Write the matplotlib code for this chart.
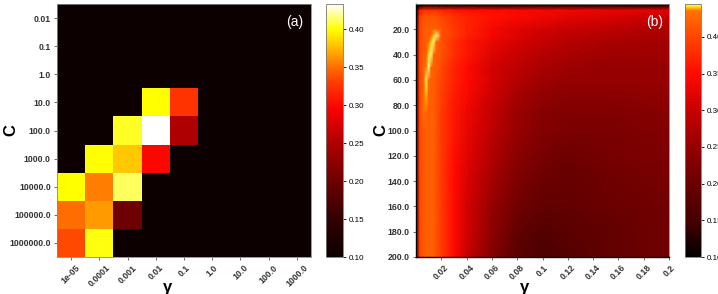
import numpy as np
import matplotlib
matplotlib.use("Agg")
import matplotlib.pyplot as plt
from matplotlib.colors import LinearSegmentedColormap

plt.rcParams['font.family'] = ['Liberation Sans', 'DejaVu Sans']

# ---------------- Panel (a) data ----------------
gamma_a_labels = ['1e-05', '0.0001', '0.001', '0.01', '0.1', '1.0', '10.0', '100.0', '1000.0']
C_a_labels = ['0.01', '0.1', '1.0', '10.0', '100.0', '1000.0', '10000.0', '100000.0', '1000000.0']
B = 0.10
score_a = [
    [B, B, B, B, B, B, B, B, B],
    [B, B, B, B, B, B, B, B, B],
    [B, B, B, B, B, B, B, B, B],
    [B, B, B, 0.400, 0.325, B, B, B, B],
    [B, B, 0.405, 0.433, 0.250, B, B, B, B],
    [B, 0.400, 0.380, 0.300, B, B, B, B, B],
    [0.400, 0.355, 0.412, B, B, B, B, B, B],
    [0.350, 0.365, 0.200, B, B, B, B, B, B],
    [0.335, 0.402, B, B, B, B, B, B, B],
]
cbar_a_ticks = [0.10, 0.15, 0.20, 0.25, 0.30, 0.35, 0.40]

# ---------------- Panel (b) data ----------------
gamma_b = [0.0, 0.001, 0.003, 0.006, 0.008, 0.010, 0.012, 0.014, 0.016, 0.020,
           0.030, 0.040, 0.060, 0.080, 0.100, 0.120, 0.150, 0.200]
C_b = [0, 2, 5, 10, 20, 25, 30, 40, 50, 60, 70, 85, 100, 130, 160, 180, 200]
score_b = [
    [0.10, 0.10, 0.10, 0.10, 0.10, 0.10, 0.10, 0.10, 0.10, 0.10, 0.10, 0.10, 0.10, 0.10, 0.10, 0.10, 0.10, 0.10],
    [0.10, 0.10, 0.14, 0.17, 0.18, 0.18, 0.18, 0.18, 0.18, 0.18, 0.18, 0.18, 0.17, 0.17, 0.17, 0.17, 0.16, 0.16],
    [0.10, 0.16, 0.36, 0.38, 0.38, 0.38, 0.38, 0.38, 0.38, 0.37, 0.36, 0.355, 0.35, 0.345, 0.34, 0.335, 0.33, 0.32],
    [0.10, 0.22, 0.39, 0.405, 0.41, 0.41, 0.41, 0.41, 0.41, 0.40, 0.38, 0.37, 0.355, 0.345, 0.335, 0.325, 0.315, 0.30],
    [0.10, 0.26, 0.40, 0.415, 0.42, 0.42, 0.42, 0.42, 0.42, 0.41, 0.39, 0.37, 0.34, 0.32, 0.31, 0.30, 0.29, 0.27],
    [0.10, 0.26, 0.40, 0.415, 0.42, 0.42, 0.42, 0.44, 0.445, 0.41, 0.39, 0.37, 0.34, 0.32, 0.30, 0.29, 0.28, 0.27],
    [0.10, 0.26, 0.40, 0.415, 0.42, 0.42, 0.44, 0.445, 0.43, 0.41, 0.38, 0.36, 0.33, 0.31, 0.30, 0.28, 0.27, 0.26],
    [0.10, 0.26, 0.40, 0.415, 0.42, 0.44, 0.445, 0.43, 0.42, 0.41, 0.38, 0.36, 0.32, 0.30, 0.28, 0.27, 0.26, 0.26],
    [0.10, 0.26, 0.40, 0.42, 0.435, 0.445, 0.43, 0.42, 0.42, 0.40, 0.37, 0.35, 0.31, 0.29, 0.27, 0.26, 0.25, 0.25],
    [0.10, 0.26, 0.40, 0.42, 0.443, 0.43, 0.42, 0.42, 0.41, 0.40, 0.37, 0.35, 0.31, 0.28, 0.26, 0.25, 0.25, 0.25],
    [0.10, 0.26, 0.40, 0.425, 0.44, 0.425, 0.42, 0.42, 0.41, 0.395, 0.365, 0.345, 0.305, 0.27, 0.25, 0.24, 0.24, 0.245],
    [0.10, 0.26, 0.40, 0.435, 0.425, 0.42, 0.42, 0.42, 0.41, 0.39, 0.36, 0.335, 0.295, 0.255, 0.235, 0.225, 0.225, 0.235],
    [0.10, 0.26, 0.40, 0.415, 0.42, 0.42, 0.42, 0.42, 0.41, 0.39, 0.36, 0.33, 0.29, 0.25, 0.23, 0.22, 0.22, 0.23],
    [0.10, 0.26, 0.40, 0.415, 0.42, 0.42, 0.42, 0.42, 0.41, 0.39, 0.35, 0.32, 0.27, 0.23, 0.21, 0.20, 0.21, 0.22],
    [0.10, 0.26, 0.40, 0.415, 0.42, 0.42, 0.42, 0.42, 0.41, 0.39, 0.35, 0.31, 0.25, 0.21, 0.19, 0.19, 0.20, 0.21],
    [0.10, 0.26, 0.40, 0.415, 0.42, 0.42, 0.42, 0.42, 0.41, 0.39, 0.35, 0.31, 0.24, 0.19, 0.17, 0.18, 0.19, 0.21],
    [0.10, 0.26, 0.40, 0.415, 0.42, 0.42, 0.42, 0.42, 0.41, 0.39, 0.35, 0.30, 0.23, 0.18, 0.16, 0.17, 0.19, 0.21],
]
gamma_b_ticks = [0.02, 0.04, 0.06, 0.08, 0.1, 0.12, 0.14, 0.16, 0.18, 0.2]
gamma_b_labels = ['0.02', '0.04', '0.06', '0.08', '0.1', '0.12', '0.14', '0.16', '0.18', '0.2']
C_b_ticks = [20, 40, 60, 80, 100, 120, 140, 160, 180, 200]
cbar_b_ticks = [0.10, 0.15, 0.20, 0.25, 0.30, 0.35, 0.40]


def make_cmap(anchors, vmin, vmax, name):
    pts = [((v - vmin) / (vmax - vmin), tuple(c / 255 for c in col)) for v, col in anchors]
    return LinearSegmentedColormap.from_list(name, pts, N=1024)


vmin_a, vmax_a = 0.10, 0.433
cmap_a = make_cmap([
    (0.10, (12, 0, 0)), (0.15, (50, 0, 0)), (0.20, (110, 0, 0)), (0.25, (175, 0, 0)),
    (0.295, (250, 0, 0)), (0.33, (255, 60, 0)), (0.35, (255, 110, 0)),
    (0.38, (255, 200, 0)), (0.40, (255, 255, 0)), (0.433, (255, 255, 255))],
    vmin_a, vmax_a, 'ha')

vmin_b, vmax_b = 0.10, 0.445
cmap_b = make_cmap([
    (0.10, (0, 0, 0)), (0.15, (70, 0, 0)), (0.20, (105, 0, 0)), (0.25, (150, 0, 0)),
    (0.30, (200, 0, 0)), (0.35, (255, 10, 0)), (0.40, (255, 70, 0)),
    (0.436, (255, 115, 0)), (0.441, (255, 220, 0)), (0.445, (255, 255, 150))],
    vmin_b, vmax_b, 'hb')

W, H = 718, 294
fig = plt.figure(figsize=(W / 100, H / 100), dpi=100)

def fx(px):
    return px / W

def fy(py):
    return 1 - py / H

top, bot = 4, 257
ax_a = fig.add_axes([fx(57), fy(bot), fx(311 - 57), (bot - top) / H])
cb_a = fig.add_axes([fx(326), fy(bot), fx(17), (bot - top) / H])
ax_b = fig.add_axes([fx(416), fy(bot), fx(669 - 416), (bot - top) / H])
cb_b = fig.add_axes([fx(685), fy(bot), fx(16), (bot - top) / H])

tick_kw = dict(fontsize=6.3, fontweight='bold', color='#333333')

# Panel (a)
im_a = ax_a.imshow(np.array(score_a), cmap=cmap_a, vmin=vmin_a, vmax=vmax_a,
                   aspect='auto', interpolation='nearest')
ax_a.set_xticks(range(len(gamma_a_labels)))
ax_a.set_xticklabels(gamma_a_labels, rotation=45, **tick_kw)
ax_a.set_yticks(range(len(C_a_labels)))
ax_a.set_yticklabels(C_a_labels, **tick_kw)
ax_a.tick_params(length=2.5, width=0.6, color='#555555', pad=2)
for s in ax_a.spines.values():
    s.set_color('#888888'); s.set_linewidth(0.6)
ax_a.set_xlabel('γ', fontsize=12, fontweight='bold')
ax_a.xaxis.set_label_coords(0.437, -0.122)
ax_a.xaxis.label.set_va('center')
ax_a.set_ylabel('C', fontsize=12, fontweight='bold')
ax_a.yaxis.set_label_coords(-0.181, 0.5)
ax_a.yaxis.label.set_va('center')
ax_a.text(0.969, 0.957, '(a)', transform=ax_a.transAxes, color='white',
          fontsize=10, ha='right', va='top')
cba = fig.colorbar(im_a, cax=cb_a, ticks=cbar_a_ticks, format='%.2f')
cba.ax.tick_params(labelsize=5.8, length=2, width=0.6, pad=2)
cba.outline.set_edgecolor('#777777'); cba.outline.set_linewidth(0.6)

# Panel (b)
im_b = ax_b.pcolormesh(np.array(gamma_b), np.array(C_b), np.array(score_b),
                       cmap=cmap_b, vmin=vmin_b, vmax=vmax_b, shading='gouraud')
ax_b.set_xlim(0, 0.2)
ax_b.set_ylim(200, 0)
ax_b.set_xticks(gamma_b_ticks)
ax_b.set_xticklabels(gamma_b_labels, rotation=45, **tick_kw)
ax_b.set_yticks(C_b_ticks)
ax_b.set_yticklabels([f'{c:.1f}' for c in C_b_ticks], **tick_kw)
ax_b.tick_params(length=2.5, width=0.6, color='#555555', pad=2)
for k, s in ax_b.spines.items():
    s.set_color('#888888'); s.set_linewidth(0.6)
ax_b.spines['left'].set_color('black'); ax_b.spines['left'].set_linewidth(1.0)
ax_b.spines['bottom'].set_color('black'); ax_b.spines['bottom'].set_linewidth(1.0)
ax_b.set_xlabel('γ', fontsize=12, fontweight='bold')
ax_b.xaxis.set_label_coords(0.43, -0.122)
ax_b.xaxis.label.set_va('center')
ax_b.set_ylabel('C', fontsize=12, fontweight='bold')
ax_b.yaxis.set_label_coords(-0.138, 0.5)
ax_b.yaxis.label.set_va('center')
ax_b.text(0.976, 0.957, '(b)', transform=ax_b.transAxes, color='white',
          fontsize=10, ha='right', va='top')
cbb = fig.colorbar(im_b, cax=cb_b, ticks=cbar_b_ticks, format='%.2f')
cbb.ax.tick_params(labelsize=5.8, length=2, width=0.6, pad=2)
cbb.outline.set_edgecolor('#777777'); cbb.outline.set_linewidth(0.6)

fig.savefig('out.png', dpi=100)
